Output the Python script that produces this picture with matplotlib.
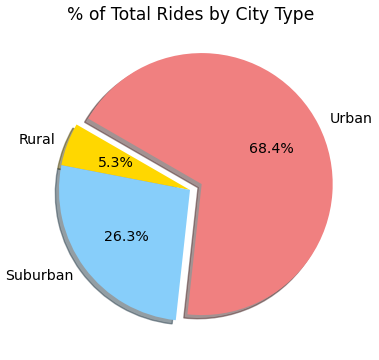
import matplotlib
matplotlib.use("Agg")
import matplotlib.pyplot as plt

labels = ["Rural", "Suburban", "Urban"]
values = [5.3, 26.3, 68.4]
colors = ["gold", "lightskyblue", "lightcoral"]
explode = [0, 0, 0.1]

W, H = 379, 360
fig = plt.figure(figsize=(W / 100, H / 100), dpi=100)
r = 131
cx, cy = 190, H - 190
ax = fig.add_axes([(cx - 1.25 * r) / W, (cy - 1.25 * r) / H, 2.5 * r / W, 2.5 * r / H])
ax.pie(values, explode=explode, labels=labels, colors=colors,
       autopct="%1.1f%%", shadow=True, startangle=150,
       textprops={"fontsize": 10.2})
ax.set_xlim(-1.25, 1.25)
ax.set_ylim(-1.25, 1.25)
ax.set_aspect("equal")
fig.text(191 / W, 1 - 15 / H, "% of Total Rides by City Type", fontsize=12.3,
         ha="center", va="center")
fig.savefig("out.png", dpi=100)
